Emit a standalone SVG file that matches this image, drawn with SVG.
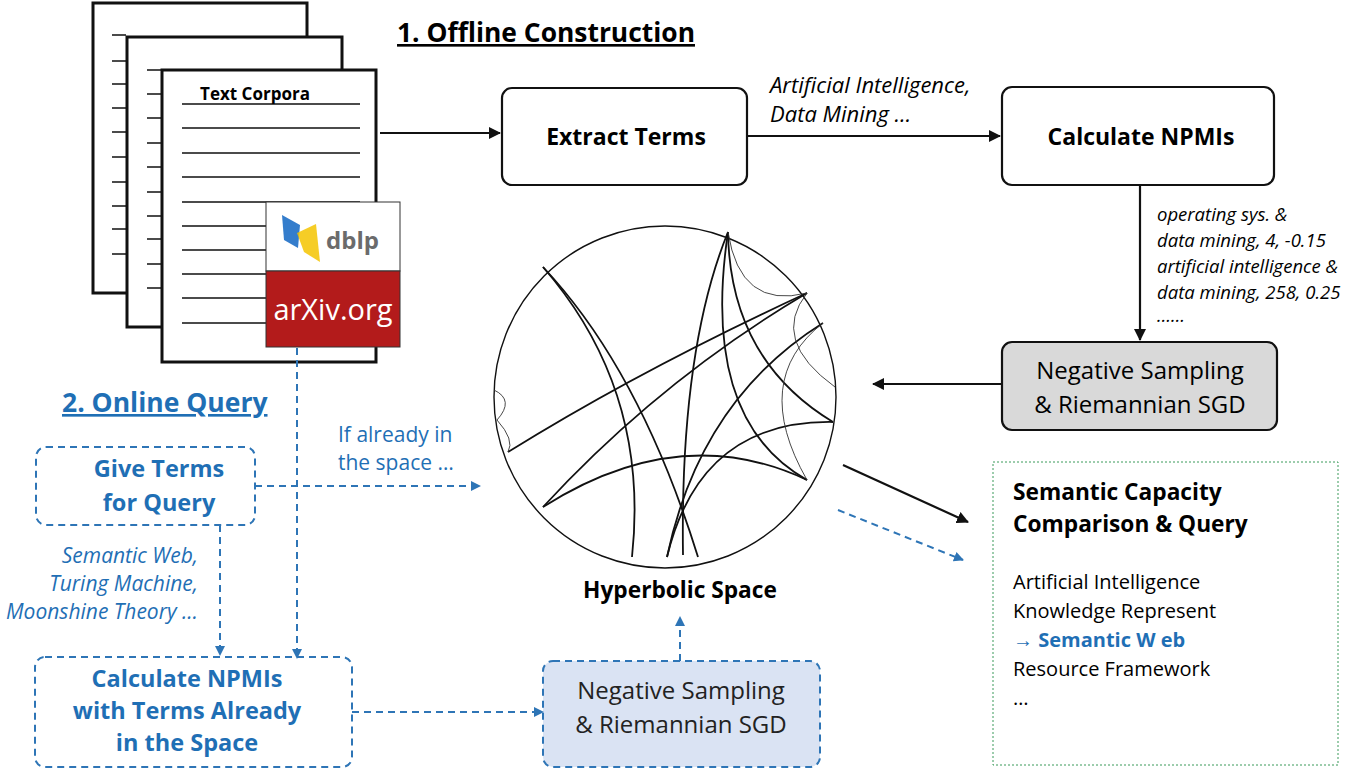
<svg xmlns="http://www.w3.org/2000/svg" width="1351" height="769" viewBox="0 0 1351 769">
<style>
text{font-family:"Open Sans","Liberation Sans",sans-serif}
.pg{fill:#fff;stroke:#111;stroke-width:3}
.ln{stroke:#111;stroke-width:1.6}
.box{fill:#fff;stroke:#111;stroke-width:2.2}
.bl{fill:#fff;stroke:#2e75b6;stroke-width:2;stroke-dasharray:7,5}
.bt{fill:#1f6fb5;font-weight:bold;font-size:23.5px;text-anchor:middle}
.it{font-style:italic}
.arr{stroke:#111;stroke-width:2.2;fill:none}
.da{stroke:#2e75b6;stroke-width:2;stroke-dasharray:7,5;fill:none}
.hy{fill:none;stroke:#111;stroke-width:1.8}
.hl{fill:none;stroke:#333;stroke-width:0.9}
</style>
<defs>
<marker id="ab" markerWidth="12" markerHeight="12" refX="11" refY="6" orient="auto" markerUnits="userSpaceOnUse"><path d="M0,0 L12,6 L0,12 z" fill="#111"/></marker>
<marker id="au" markerWidth="10" markerHeight="10" refX="9" refY="5" orient="auto" markerUnits="userSpaceOnUse"><path d="M0,0 L10,5 L0,10 z" fill="#2e75b6"/></marker>
</defs>
<g id="corpora">
<rect class="pg" x="93" y="3" width="214" height="290"/>
<g class="ln"><path d="M112,35H126M112,61H126M112,84H126M112,108H126M112,132H126M112,157H126M112,182H126M112,206H126M112,229H126M112,254H126"/></g>
<rect class="pg" x="127" y="37" width="215" height="290"/>
<g class="ln"><path d="M147,70H162M147,94H162M147,118H162M147,143H162M147,167H162M147,192H162M147,216H162M147,239H162M147,264H162M147,288H162"/></g>
<rect class="pg" x="162" y="70" width="214" height="292"/>
<g class="ln"><path d="M182,104H360M182,128H360M182,153H360M182,177H360M182,202H360M182,226H360M182,250H360M182,274H360M182,298H360M182,323H360"/></g>
<text x="255" y="100" font-size="17" font-weight="bold" text-anchor="middle">Text Corpora</text>
<rect x="266" y="202" width="134" height="69" fill="#fff" stroke="#333"/>
<polygon points="282,215 300,225 298,248 284,240" fill="#1e6fc6" opacity="0.9"/>
<polygon points="297,233 316,224 320,262 304,252" fill="#f5c400" opacity="0.85"/>
<text x="326" y="249" font-size="24" font-weight="bold" fill="#6b6b6b" font-family="Liberation Sans,sans-serif">dblp</text>
<rect x="266" y="271" width="134" height="76" fill="#b31b1b" stroke="#333"/>
<text x="333" y="320" font-size="29" fill="#fff" text-anchor="middle" font-family="Liberation Sans,sans-serif">arXiv.org</text>
</g>
<text x="546" y="42" font-size="26.4" font-weight="bold" text-anchor="middle" text-decoration="underline">1. Offline Construction</text>
<g id="extract"><rect class="box" x="502" y="88" width="245" height="97" rx="10"/><text x="626" y="145" font-size="23" font-weight="bold" text-anchor="middle">Extract Terms</text></g>
<g id="calc"><rect class="box" x="1002" y="87" width="272" height="98" rx="10"/><text x="1141" y="145" font-size="23" font-weight="bold" text-anchor="middle">Calculate NPMIs</text></g>
<g id="neg1"><rect x="1002" y="342" width="275" height="88" rx="10" fill="#d9d9d9" stroke="#111" stroke-width="2.2"/><text x="1140" y="379" font-size="24" text-anchor="middle">Negative Sampling</text><text x="1140" y="413" font-size="24" text-anchor="middle">&amp; Riemannian SGD</text></g>
<g id="hyper">
<circle cx="665" cy="397" r="171" fill="#fff" stroke="#111" stroke-width="1.4"/>
<path class="hy" d="M543,267 Q650,390 632,557"/>
<path class="hy" d="M543,267 Q640,370 698,557"/>
<path class="hy" d="M807,293 Q640,370 508,452"/>
<path class="hy" d="M807,293 Q660,380 543,507"/>
<path class="hy" d="M823,323 Q700,400 667,557"/>
<path class="hy" d="M728,232 Q680,350 683,555"/>
<path class="hy" d="M728,232 Q700,420 807,480"/>
<path class="hy" d="M728,232 Q730,360 833,422"/>
<path class="hy" d="M833,422 Q700,420 667,557"/>
<path class="hy" d="M807,480 Q680,420 543,507"/>
<path class="hl" d="M728,232 Q740,310 807,293"/>
<path class="hl" d="M807,293 Q770,340 835,387"/>
<path class="hl" d="M823,323 Q750,380 807,480"/>
<path class="hl" d="M494,390 Q515,400 497,420 Q515,440 508,452"/>
</g>
<text x="680" y="598" font-size="22.7" font-weight="bold" text-anchor="middle">Hyperbolic Space</text>
<g id="semantic">
<rect x="993" y="462" width="345" height="303" fill="#fff" stroke="#3a9a5a" stroke-width="1" stroke-dasharray="2,2"/>
<text x="1013" y="500" font-size="22.7" font-weight="bold">Semantic Capacity</text>
<text x="1013" y="532" font-size="22.7" font-weight="bold">Comparison &amp; Query</text>
<text x="1013" y="589" font-size="20">Artificial Intelligence</text>
<text x="1013" y="618" font-size="20">Knowledge Represent</text>
<text x="1013" y="647" font-size="20" font-weight="bold" fill="#1f6fb5">→ Semantic W eb</text>
<text x="1013" y="676" font-size="20">Resource Framework</text>
<text x="1013" y="705" font-size="20">…</text>
</g>
<text x="62" y="412" font-size="26.5" font-weight="bold" fill="#1f6fb5" text-decoration="underline">2. Online Query</text>
<g id="give"><rect class="bl" x="36" y="447" width="219" height="78" rx="10"/><text class="bt" x="159" y="477">Give Terms</text><text class="bt" x="159" y="511">for Query</text></g>
<g id="calc2"><rect class="bl" x="35" y="657" width="317" height="110" rx="10"/><text class="bt" x="187" y="687">Calculate NPMIs</text><text class="bt" x="187" y="719">with Terms Already</text><text class="bt" x="187" y="751">in the Space</text></g>
<g id="neg2"><rect x="543" y="661" width="277" height="106" rx="10" fill="#dae3f3" stroke="#2e75b6" stroke-width="2" stroke-dasharray="7,5"/><text x="681" y="699" font-size="24" text-anchor="middle" fill="#222">Negative Sampling</text><text x="681" y="733" font-size="24" text-anchor="middle" fill="#222">&amp; Riemannian SGD</text></g>
<g id="connectors">
<path class="arr" d="M380,133H500" marker-end="url(#ab)"/>
<path class="arr" d="M747,136H1000" marker-end="url(#ab)"/>
<path class="arr" d="M1140,185V340" marker-end="url(#ab)"/>
<path class="arr" d="M1002,384H873" marker-end="url(#ab)"/>
<path class="arr" d="M843,465L968,522" marker-end="url(#ab)"/>
<path class="da" d="M838,510L963,560" marker-end="url(#au)" stroke="#4472c4"/>
<path class="da" d="M255,486H480" marker-end="url(#au)"/>
<path class="da" d="M297,348V658" marker-end="url(#au)"/>
<path class="da" d="M220,525V655" marker-end="url(#au)"/>
<path class="da" d="M352,712H543" marker-end="url(#au)"/>
<path class="da" d="M680,661V617" marker-end="url(#au)"/>
</g>
<g font-size="22" class="it"><text x="770" y="93">Artificial Intelligence,</text><text x="770" y="122">Data Mining …</text></g>
<g font-size="18.5" class="it"><text x="1157" y="221">operating sys. &amp;</text><text x="1157" y="247">data mining, 4, -0.15</text><text x="1157" y="273">artificial intelligence &amp;</text><text x="1157" y="299">data mining, 258, 0.25</text><text x="1157" y="322">……</text></g>
<g font-size="21" fill="#1f6fb5"><text x="338" y="442">If already in</text><text x="338" y="470">the space …</text></g>
<g font-size="21" fill="#1f6fb5" class="it" text-anchor="end"><text x="198" y="563">Semantic Web,</text><text x="198" y="591">Turing Machine,</text><text x="198" y="619">Moonshine Theory …</text></g>
</svg>
